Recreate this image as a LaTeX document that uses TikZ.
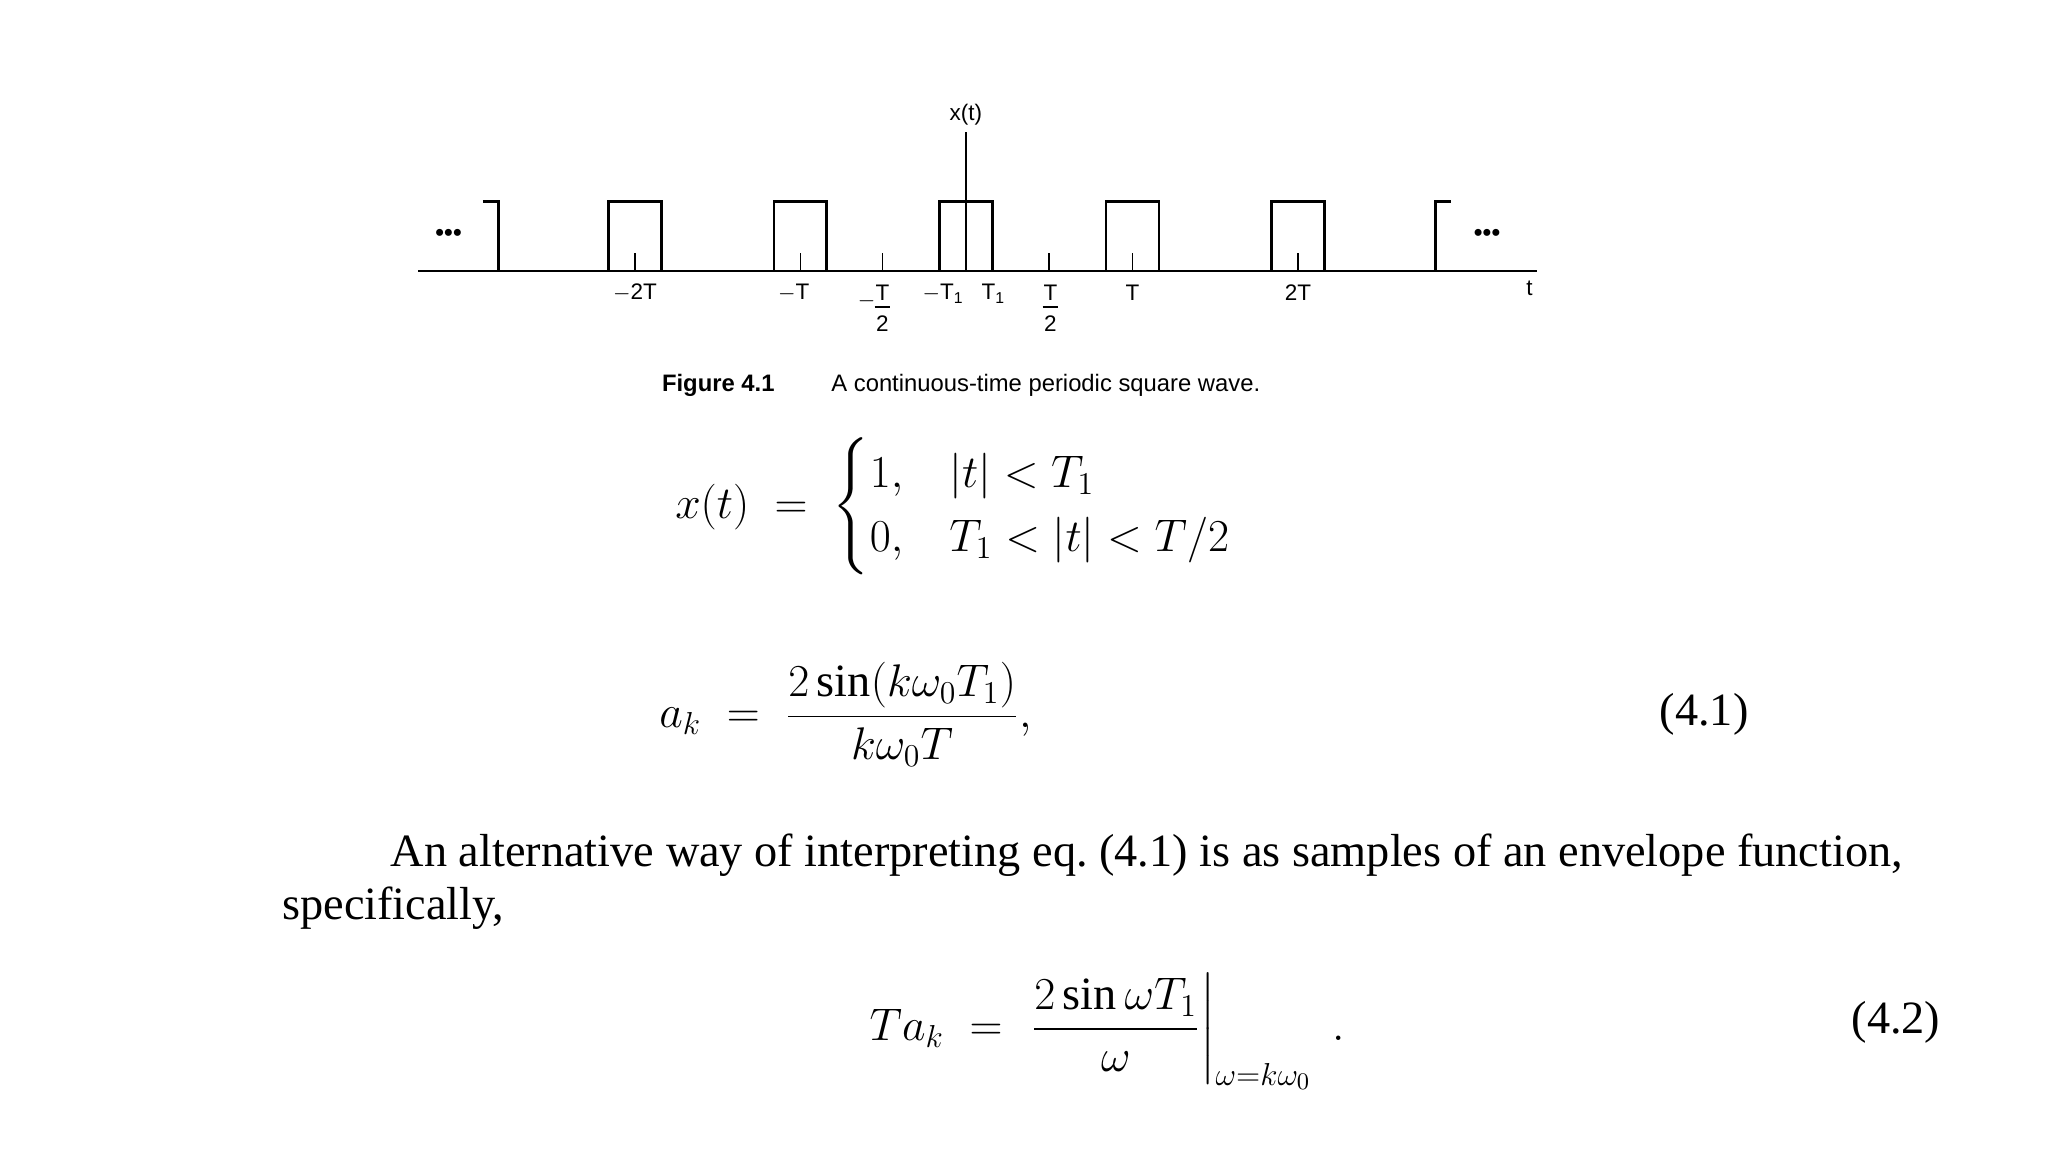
\documentclass[tikz,border=0pt]{standalone}
\usepackage{amsmath}
\usepackage{fontspec}
\setmainfont{Liberation Serif}
\setsansfont{Liberation Sans}
\begin{document}
\begin{tikzpicture}[x=0.5pt,y=-0.5pt,
  lab/.style={font=\sffamily\fontsize{8.5}{9}\selectfont,inner sep=0pt},
  eq/.style={font=\fontsize{17.5}{20}\selectfont,inner sep=0pt},
  wave/.style={line width=1.1pt}]
\useasboundingbox (0,0) rectangle (1548,871);
% axes
\coordinate (ax0) at (316,205); \coordinate (ax1) at (1162,205);
\draw[line width=0.8pt] (ax0) -- (ax1);
\coordinate (yt) at (730,100); \coordinate (yb) at (730,205);
\draw[line width=0.6pt] (yb) -- (yt);
\node[lab] (xt) at (730,87) {x(t)};
% partial pulses
\draw[wave] (365,152) -- (377,152) -- (377,205);
\draw[wave] (1085,205) -- (1085,152) -- (1097,152);
% full pulses
\foreach \c in {480,605,730,856,981}{
  \draw[wave] (\c-20,205) -- (\c-20,152) -- (\c+20,152) -- (\c+20,205);
}
% ticks
\foreach \c in {480,605,667,793,856,981}{
  \draw[line width=0.5pt] (\c,205) -- (\c,191);
}
\node[font=\fontsize{11}{11}\selectfont,inner sep=0pt] (dl) at (339,178) {\textbullet\kern-0.5pt\textbullet\kern-0.5pt\textbullet};
\node[font=\fontsize{11}{11}\selectfont,inner sep=0pt] (dr) at (1124,178) {\textbullet\kern-0.5pt\textbullet\kern-0.5pt\textbullet};
% labels
\node[lab] (l1) at (480,221) {$-$2T};
\node[lab] (l2) at (600,221) {$-$T};
\node[lab,anchor=east] (l3m) at (662,228) {$-$};
\node[lab] (l3a) at (667,221) {T};
\draw[line width=0.5pt] (661,232) -- (673,232);
\node[lab] (l3b) at (667,245) {2};
\node[lab] (l4) at (713,222) {$-$T\textsubscript{1}};
\node[lab] (l5) at (751,222) {T\textsubscript{1}};
\node[lab] (l6a) at (794,221) {T};
\draw[line width=0.5pt] (788,232) -- (800,232);
\node[lab] (l6b) at (794,245) {2};
\node[lab] (l7) at (856,221) {T};
\node[lab] (l8) at (981,221) {2T};
\node[lab] (l9) at (1156,218) {t};
% caption
\node[font=\sffamily\bfseries\fontsize{9}{10}\selectfont,anchor=west,inner sep=0pt] (fig) at (500,291) {Figure 4.1};
\node[font=\sffamily\fontsize{9}{10}\selectfont,anchor=west,inner sep=0pt] (cap) at (628,291) {A continuous-time periodic square wave.};
% equations
\node[eq,anchor=west] (e0) at (510,383) {$x(t)\;=\;\begin{cases}1, & |t|<T_1\\ 0, & T_1<|t|<T/2\end{cases}$};
\node[eq,anchor=west] (e1) at (498,540) {$a_k\;=\;\dfrac{2\sin(k\omega_0T_1)}{k\omega_0T},$};
\node[eq,anchor=east] (n1) at (1322,540) {(4.1)};
\node[eq,anchor=base west] (p1) at (295,655) {An alternative way of interpreting eq.\ (4.1) is as samples of an envelope function,};
\node[eq,anchor=base west] (p2) at (213,695) {specifically,};
\node[eq,anchor=west] (e2) at (657,780) {$Ta_k\;=\;\left.\dfrac{2\sin\omega T_1}{\omega}\right|_{\omega=k\omega_0}\;.$};
\node[eq,anchor=east] (n2) at (1467,773) {(4.2)};
\end{tikzpicture}
\end{document}
